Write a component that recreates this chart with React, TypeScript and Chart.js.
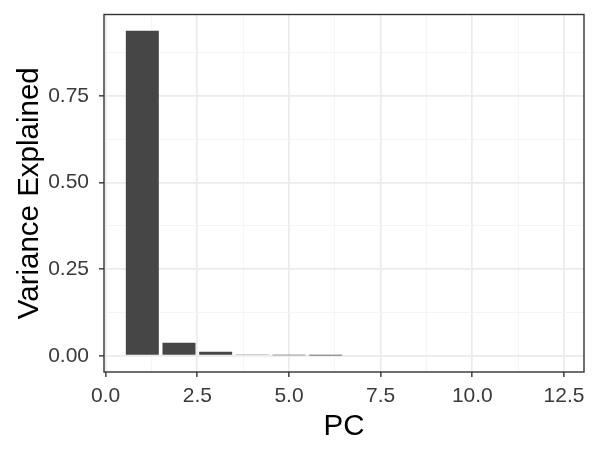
import React, { useEffect, useRef } from "react";
import { Chart, registerables } from "chart.js";

Chart.register(...registerables);

// Data
const pcs = [1, 2, 3, 4, 5, 6, 7, 8, 9, 10, 11, 12];
const varianceExplained = [0.938, 0.0375, 0.0115, 0.0035, 0.0012, 0.0008, 0, 0, 0, 0, 0, 0];

// Axes
const xMajorTicks = [0, 2.5, 5, 7.5, 10, 12.5];
const yMajorTicks = [0, 0.25, 0.5, 0.75];
const xLimits = [-0.045, 13.045];
const yLimits = [-0.047, 0.985];
const xTitle = "PC";
const yTitle = "Variance Explained";

const FONT = "'Liberation Sans', Arial, Helvetica, sans-serif";

const isMajor = (v: number, majors: number[]) => majors.some((m) => Math.abs(m - v) < 1e-6);

const panelBorder = {
  id: "panelBorder",
  afterDatasetsDraw(chart: any) {
    const { ctx, chartArea } = chart;
    ctx.save();
    ctx.strokeStyle = "#333333";
    ctx.lineWidth = 1.4;
    ctx.strokeRect(chartArea.left, chartArea.top, chartArea.right - chartArea.left, chartArea.bottom - chartArea.top);
    ctx.restore();
  },
};

function gridFor(majors: number[]) {
  return {
    offset: false,
    drawTicks: true,
    tickLength: 5,
    color: (c: any) => (c.tick && isMajor(c.tick.value, majors) ? "#EBEBEB" : "#F4F4F4"),
    lineWidth: (c: any) => (c.tick && isMajor(c.tick.value, majors) ? 1.7 : 0.9),
    tickColor: (c: any) => (c.tick && isMajor(c.tick.value, majors) ? "#333333" : "rgba(0,0,0,0)"),
    tickWidth: 1.4,
  };
}

export default function App() {
  const ref = useRef<HTMLCanvasElement | null>(null);

  useEffect(() => {
    if (!ref.current) return;
    const chart = new Chart(ref.current, {
      type: "bar",
      data: {
        datasets: [
          {
            data: pcs.map((p, i) => ({ x: p, y: varianceExplained[i] })),
            backgroundColor: "#464646",
            borderWidth: 0,
            barPercentage: 0.9,
            categoryPercentage: 1.0,
          },
        ],
      },
      options: {
        responsive: false,
        animation: false,
        devicePixelRatio: 1,
        layout: { padding: { left: 0, top: 14.5, right: 16, bottom: 0 } },
        plugins: { legend: { display: false }, tooltip: { enabled: false } },
        scales: {
          x: {
            type: "linear",
            min: xLimits[0],
            max: xLimits[1],
            offset: false,
            border: { display: false },
            grid: gridFor(xMajorTicks) as any,
            ticks: {
              stepSize: 1.25,
              includeBounds: false,
              autoSkip: false,
              maxRotation: 0,
              padding: 7,
              color: "#3A3A3A",
              font: { family: FONT, size: 21 },
              callback: (v: any) => (isMajor(Number(v), xMajorTicks) ? Number(v).toFixed(1) : ""),
            },
            title: {
              display: true,
              text: xTitle,
              color: "#000000",
              font: { family: FONT, size: 29.5, lineHeight: 1 },
              padding: { top: 0, bottom: 8 },
            },
            afterFit: (s: any) => {
              s.height = 78;
              s.paddingLeft = 0;
              s.paddingRight = 0;
            },
          },
          y: {
            type: "linear",
            min: yLimits[0],
            max: yLimits[1],
            border: { display: false },
            grid: gridFor(yMajorTicks) as any,
            ticks: {
              stepSize: 0.125,
              includeBounds: false,
              autoSkip: false,
              padding: 10,
              color: "#3A3A3A",
              font: { family: FONT, size: 21 },
              callback: (v: any) => (isMajor(Number(v), yMajorTicks) ? Number(v).toFixed(2) : ""),
            },
            title: {
              display: true,
              text: yTitle,
              color: "#000000",
              font: { family: FONT, size: 29.5, lineHeight: 1 },
              padding: { top: 15, bottom: 0 },
            },
            afterFit: (s: any) => {
              s.width = 104;
              s.paddingTop = 0;
              s.paddingBottom = 0;
            },
          },
        },
      },
      plugins: [panelBorder],
    });
    return () => chart.destroy();
  }, []);

  return (
    <div style={{ position: "fixed", left: 0, top: 0, width: 600, height: 450, background: "#ffffff" }}>
      <canvas ref={ref} width={600} height={450} />
    </div>
  );
}
